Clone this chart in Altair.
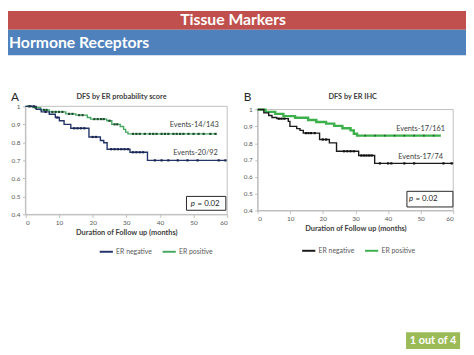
import altair as alt
import pandas as pd

# ---------------- data ----------------
header_title = ["Tissue Markers"]
section_title = ["Hormone Receptors"]
page_label = ["1 out of 4"]
panel_letters = ["A", "B"]
panel_titles = ["DFS by ER probability score", "DFS by ER IHC"]
groups = ["ER negative", "ER positive"]
x_title = "Duration of Follow up (months)"
x_ticks = [0, 10, 20, 30, 40, 50, 60]
y_ticks = [0.4, 0.5, 0.6, 0.7, 0.8, 0.9, 1.0]
p_text = ["p", "= 0.02"]

# Panel A - ER negative (event times, survival)
a_neg_t = [0, 3.2, 4.7, 7.1, 8.9, 10.1, 11.5, 13.5, 18.9, 22.3, 23.3, 24.3, 31.1, 36.3, 59.5]
a_neg_s = [1.0, 0.984, 0.969, 0.956, 0.938, 0.92, 0.90, 0.878, 0.83, 0.81, 0.798, 0.762, 0.745, 0.70, 0.70]
a_neg_ct = [1.5, 2.5, 6.0, 9.5, 14.5, 15.5, 16.5, 17.5, 20.0, 21.0, 25.5, 26.5, 27.5, 28.5, 29.5, 30.5,
            32.0, 33.0, 34.0, 35.0, 38.5, 40.5, 42.5, 45.3, 48.2, 51.2, 57.5, 59.5]
a_neg_cs = [1.0, 1.0, 0.969, 0.938, 0.878, 0.878, 0.878, 0.878, 0.83, 0.83, 0.762, 0.762, 0.762, 0.762, 0.762, 0.762,
            0.745, 0.745, 0.745, 0.745, 0.70, 0.70, 0.70, 0.70, 0.70, 0.70, 0.70, 0.70]

# Panel A - ER positive
a_pos_t = [0, 2.2, 4.5, 7.1, 12.0, 15.0, 18.4, 19.4, 24.2, 25.7, 28.2, 29.2, 29.8, 30.5, 57.0]
a_pos_s = [1.0, 0.993, 0.98, 0.969, 0.958, 0.951, 0.938, 0.929, 0.92, 0.90, 0.888, 0.872, 0.857, 0.847, 0.847]
a_pos_ct = [1.0, 3.0, 5.5, 6.3, 8.0, 9.0, 10.0, 11.0, 13.0, 14.0, 16.0, 17.0, 20.5, 21.5, 22.5, 23.3, 25.0,
            26.5, 27.3, 32.0, 33.0, 34.0, 35.5, 37.0, 38.0, 39.0, 40.5, 41.5, 42.5, 44.0, 45.0, 46.0, 47.0,
            48.5, 50.0, 51.5, 53.0, 55.0, 56.5]
a_pos_cs = [1.0, 0.993, 0.98, 0.98, 0.969, 0.969, 0.969, 0.969, 0.958, 0.958, 0.951, 0.951, 0.929, 0.929, 0.929,
            0.929, 0.92, 0.90, 0.90] + [0.847] * 20

# Panel B - ER negative
b_neg_t = [0, 1.9, 3.4, 4.4, 5.9, 9.4, 9.9, 12.0, 13.0, 14.0, 19.0, 22.0, 24.2, 31.0, 35.9, 60.0]
b_neg_s = [1.0, 0.98, 0.965, 0.953, 0.946, 0.93, 0.90, 0.887, 0.876, 0.86, 0.822, 0.802, 0.752, 0.727, 0.68, 0.68]
b_neg_ct = [6.5, 7.3, 8.2, 14.8, 15.6, 16.4, 17.5, 20.0, 21.0, 26.5, 27.5, 28.5, 29.5, 31.8, 32.6, 33.4,
            34.2, 35.0, 37.5, 40.0, 41.0, 45.0, 48.0, 57.0, 59.5]
b_neg_cs = [0.946, 0.946, 0.946, 0.86, 0.86, 0.86, 0.86, 0.822, 0.822, 0.752, 0.752, 0.752, 0.752, 0.727,
            0.727, 0.727, 0.727, 0.727, 0.68, 0.68, 0.68, 0.68, 0.68, 0.68, 0.68]

# Panel B - ER positive
b_pos_t = [0, 2.4, 5.4, 7.9, 11.5, 15.5, 18.0, 21.0, 23.5, 26.0, 28.5, 29.5, 30.5, 56.2]
b_pos_s = [1.0, 0.986, 0.974, 0.961, 0.951, 0.938, 0.926, 0.916, 0.903, 0.889, 0.876, 0.856, 0.845, 0.845]
b_pos_ct = [33.0, 36.0, 39.0, 42.0, 45.0, 48.0, 51.0, 54.0]
b_pos_cs = [0.845] * 8

# annotations (data coordinates)
a_events = ["Events-14/143", "Events-20/92"]
a_events_t = [50.2, 50.6]
a_events_s = [0.896, 0.738]
b_events = ["Events-17/161", "Events-17/74"]
b_events_t = [50.0, 50.0]
b_events_s = [0.885, 0.716]
a_pbox = [47.9, 59.6, 0.423, 0.50]
b_pbox = [45.8, 59.9, 0.421, 0.514]
a_ptext_t = [49.8, 51.2]
a_ptext_s = [0.46, 0.46]
b_ptext_t = [47.1, 48.4]
b_ptext_s = [0.466, 0.466]

# ---------------- layout ----------------
W, H = 466, 347
FONT = "Lato"
GRAY = "#bfbfbf"
LABEL = "#595959"
DARK = "#404040"


def panel(cfg):
    xs = alt.Scale(domain=[0, 60], range=cfg["xr"], nice=False, zero=False)
    ys = alt.Scale(domain=[0.4, 1.0], range=cfg["yr"], nice=False, zero=False)
    xax = alt.Axis(orient="bottom", offset=cfg["yr"][0] - H, values=x_ticks, grid=False,
                   domainColor=GRAY, tickColor=GRAY, tickSize=3, labelFontSize=6.5,
                   labelColor=LABEL, labelPadding=2, title=x_title, titleFontSize=7.5,
                   titleFontWeight="bold", titleColor=DARK, titlePadding=3)
    yax = alt.Axis(orient="left", offset=-cfg["xr"][0], values=y_ticks, format="~g", grid=False,
                   domainColor=GRAY, tickColor=GRAY, tickSize=3, labelFontSize=6.5,
                   labelColor=LABEL, labelPadding=2.5, title=None)

    def X(f="t"):
        return alt.X(f, type="quantitative", scale=xs, axis=xax)

    def Y(f="s"):
        return alt.Y(f, type="quantitative", scale=ys, axis=yax)

    color = alt.Color("g:N", scale=alt.Scale(domain=groups, range=cfg["colors"]),
                      legend=alt.Legend(orient="none", legendX=cfg["legend"][0], legendY=cfg["legend"][1],
                                        direction="horizontal", title=None, symbolType="stroke",
                                        symbolStrokeWidth=2, symbolSize=180, labelFontSize=7,
                                        labelColor=LABEL, columnPadding=6, labelOffset=2,
                                        labelFont=FONT))

    neg = pd.DataFrame({"t": cfg["neg_t"], "s": cfg["neg_s"], "g": groups[0]})
    pos = pd.DataFrame({"t": cfg["pos_t"], "s": cfg["pos_s"], "g": groups[1]})
    negc = pd.DataFrame({"t": cfg["neg_ct"], "s": cfg["neg_cs"]})
    posc = pd.DataFrame({"t": cfg["pos_ct"], "s": cfg["pos_cs"]})
    frame = pd.DataFrame({"t": [0], "t2": [60], "s": [0.4], "s2": [1.0]})
    pb = cfg["pbox"]
    pbox = pd.DataFrame({"t": [pb[0]], "t2": [pb[1]], "s": [pb[2]], "s2": [pb[3]]})
    ev = pd.DataFrame({"t": cfg["ev_t"], "s": cfg["ev_s"], "label": cfg["ev"]})
    pt = pd.DataFrame({"t": cfg["pt_t"], "s": cfg["pt_s"], "label": p_text})
    ttl = pd.DataFrame({"label": [cfg["title"]], "letter": [cfg["letter"]]})

    layers = [
        alt.Chart(frame).mark_rect(fill=None, stroke=GRAY, strokeWidth=1).encode(
            x=X(), x2="t2", y=Y(), y2="s2"),
        alt.Chart(pos).mark_line(interpolate="step-after", strokeWidth=cfg["pos_w"]).encode(
            x=X(), y=Y(), color=color),
        alt.Chart(neg).mark_line(interpolate="step-after", strokeWidth=cfg["neg_w"]).encode(
            x=X(), y=Y(), color=color),
        alt.Chart(posc).mark_square(size=cfg["pos_ms"], color=cfg["pos_mc"], opacity=1).encode(
            x=X(), y=Y()),
        alt.Chart(negc).mark_square(size=5, color=cfg["neg_mc"], opacity=1).encode(
            x=X(), y=Y()),
        alt.Chart(ev).mark_text(fontSize=7.5, color=DARK, font=FONT).encode(
            x=X(), y=Y(), text="label:N"),
        alt.Chart(pbox).mark_rect(fill="white", stroke="#262626", strokeWidth=1).encode(
            x=X(), x2="t2", y=Y(), y2="s2"),
        alt.Chart(pt.iloc[:1]).mark_text(fontSize=8, fontStyle="italic", color="#262626", font=FONT).encode(
            x=X(), y=Y(), text="label:N"),
        alt.Chart(pt.iloc[1:]).mark_text(fontSize=8, align="left", color="#262626", font=FONT).encode(
            x=X(), y=Y(), text="label:N"),
        alt.Chart(ttl).mark_text(fontSize=7.5, fontWeight="bold", color=DARK, font=FONT).encode(
            x=alt.value(cfg["title_xy"][0]), y=alt.value(cfg["title_xy"][1]), text="label:N"),
        alt.Chart(ttl).mark_text(fontSize=12, color="#262626", font=FONT).encode(
            x=alt.value(cfg["letter_xy"][0]), y=alt.value(cfg["letter_xy"][1]), text="letter:N"),
    ]
    return alt.layer(*layers)


panel_a = panel(dict(
    xr=[17.7, 223.0], yr=[207.0, 97.0],
    colors=["#24346a", "#45a862"], neg_w=1.4, pos_w=1.4,
    neg_mc="#1a2450", pos_mc="#1f4d30", pos_ms=5,
    neg_t=a_neg_t, neg_s=a_neg_s, pos_t=a_pos_t, pos_s=a_pos_s,
    neg_ct=a_neg_ct, neg_cs=a_neg_cs, pos_ct=a_pos_ct, pos_cs=a_pos_cs,
    pbox=a_pbox, ev=a_events, ev_t=a_events_t, ev_s=a_events_s,
    pt_t=a_ptext_t, pt_s=a_ptext_s,
    title=panel_titles[0], letter=panel_letters[0],
    title_xy=(115.5, 88), letter_xy=(7, 87.5), legend=(92, 237),
))

panel_b = panel(dict(
    xr=[254.0, 453.0], yr=[203.0, 100.3],
    colors=["#1a1a1a", "#3cb04a"], neg_w=1.4, pos_w=2.4,
    neg_mc="#111111", pos_mc="#2a5e32", pos_ms=3,
    neg_t=b_neg_t, neg_s=b_neg_s, pos_t=b_pos_t, pos_s=b_pos_s,
    neg_ct=b_neg_ct, neg_cs=b_neg_cs, pos_ct=b_pos_ct, pos_cs=b_pos_cs,
    pbox=b_pbox, ev=b_events, ev_t=b_events_t, ev_s=b_events_s,
    pt_t=b_ptext_t, pt_s=b_ptext_s,
    title=panel_titles[1], letter=panel_letters[1],
    title_xy=(350.7, 87.7), letter_xy=(243.7, 87.3), legend=(298, 236),
))

hdr = pd.DataFrame({"label": header_title})
sec = pd.DataFrame({"label": section_title})
foot = pd.DataFrame({"label": page_label})

header = [
    alt.Chart(hdr).mark_rect(color="#c0504d").encode(
        x=alt.value(0), x2=alt.value(W), y=alt.value(0), y2=alt.value(19)),
    alt.Chart(hdr).mark_text(fontSize=16, fontWeight="bold", color="white", font=FONT).encode(
        x=alt.value(229), y=alt.value(9.5), text="label:N"),
    alt.Chart(sec).mark_rect(color="#4f81bd").encode(
        x=alt.value(0), x2=alt.value(W), y=alt.value(19), y2=alt.value(45)),
    alt.Chart(sec).mark_text(fontSize=16, fontWeight="bold", color="white", align="left", font=FONT).encode(
        x=alt.value(1), y=alt.value(33), text="label:N"),
]
footer = [
    alt.Chart(foot).mark_rect(color="#9bbb59").encode(
        x=alt.value(405), x2=alt.value(460), y=alt.value(327), y2=alt.value(344)),
    alt.Chart(foot).mark_text(fontSize=11, fontWeight="bold", color="white", font=FONT).encode(
        x=alt.value(432.5), y=alt.value(335.5), text="label:N"),
]

chart = alt.layer(*header, panel_a, panel_b, *footer).resolve_scale(
    x="independent", y="independent", color="independent"
).properties(
    width=W, height=H, autosize=alt.AutoSizeParams(type="none"), padding=0
).configure(font=FONT, view=alt.ViewConfig(stroke=None))

chart.save("out.html", embed_options={"renderer": "svg", "actions": False})
